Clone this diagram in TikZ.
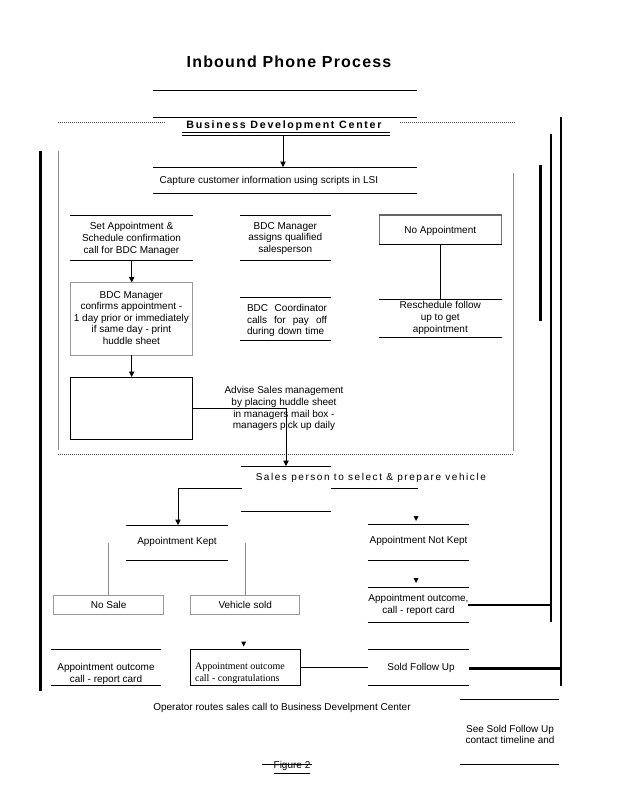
\documentclass[tikz,border=0pt]{standalone}
\usepackage{fontspec}
\setmainfont{Liberation Sans}
\newfontfamily\tnr{Liberation Serif}
\usetikzlibrary{arrows.meta}
\begin{document}
\begin{tikzpicture}[x=0.75pt,y=-0.75pt,
  txt/.style={font=\fontsize{7.5}{8.7}\selectfont, align=center, inner sep=0pt},
  rl/.style={line width=0.6pt},
  grl/.style={line width=0.6pt, black!45},
  dotl/.style={line width=0.5pt, black!70, dash pattern=on 0.6pt off 0.9pt},
  heavy/.style={line width=2.2pt},
  arr/.style={line width=0.6pt, -{Triangle[length=4pt,width=4pt]}},
  box/.style={draw, line width=0.6pt, inner sep=0pt},
  gbox/.style={draw=black!40, line width=0.6pt, inner sep=0pt},
  tip/.style={fill=black}
]
\useasboundingbox (0,0) rectangle (617,800);

% ---------- title area
\node[inner sep=0pt, font=\fontsize{12}{14}\selectfont\bfseries\addfontfeature{LetterSpace=7.5}] (title) at (289,62) {Inbound Phone Process};
\draw[rl] (153,90) -- (417,90);
\draw[rl] (153,117) -- (417,117);
\draw[dotl] (58,122.7) -- (165,122.7);
\draw[dotl] (400,122.7) -- (515,122.7);
\node[inner sep=0pt, font=\fontsize{8}{9}\selectfont\bfseries\addfontfeature{LetterSpace=16}] (bdc) at (284,125.8) {Business Development Center};
\draw[rl] (182,132.5) -- (390,132.5);
\draw[rl] (182,135.3) -- (390,135.3);
\coordinate (bdcu) at (283,135.3);

% ---------- capture
\coordinate (capt) at (283,167);
\draw[rl] (153,167) -- (417,167);
\draw[rl] (153,193) -- (417,193);
\node[txt, anchor=west] (cap) at (159.4,180.5) {Capture customer information using scripts in LSI};
\draw[arr] (bdcu) -- (capt);

% ---------- frame lines
\draw[heavy] (40.5,151) -- (40.5,690.7);
\draw[grl] (58.3,151) -- (58.3,450);
\draw[grl] (513.5,172.7) -- (513.5,450.6);
\draw[dotl] (58.3,454) -- (514,454);
\draw[heavy] (540.7,165) -- (540.7,321);
\draw[heavy] (551,134) -- (551,622);
\draw[heavy] (561,117) -- (561,686);

% ---------- set appointment
\draw[rl] (70,215) -- (193,215);
\draw[rl] (70,260) -- (193,260);
\node[txt] (setapp) at (131.5,239) {Set Appointment \&\\Schedule confirmation\\call for BDC Manager};
\coordinate (setb) at (131.7,260);

\node[gbox, minimum width=92pt, minimum height=54.2pt] (bm) at (131.4,318.9) {};
\node[txt, font=\fontsize{7.5}{8.6}\selectfont] (bmt) at (131.4,318) {BDC Manager\\confirms appointment -\\1 day prior or immediately\\if same day - print\\huddle sheet};
\draw[arr] (setb) -- (bm.north -| setb);

\node[box, minimum width=91.5pt, minimum height=46.5pt] (eb) at (131.7,408.3) {};
\draw[arr] (bm.south -| setb) -- (eb.north -| setb);

% ---------- BDC manager assigns
\draw[rl] (240,215) -- (330.7,215);
\draw[rl] (240,260) -- (330.7,260);
\node[txt] (assign) at (285.3,238.3) {BDC Manager\\assigns qualified\\salesperson};

% ---------- BDC coordinator
\draw[rl] (240,297.3) -- (330.7,297.3);
\draw[rl] (240,340) -- (330.7,340);
\node[txt, align=left, text width=60pt] (coord) at (287,320.5) {BDC\hfill Coordinator\\calls\hfill for\hfill pay\hfill off\\during down time};

% ---------- no appointment
\node[draw=black!55, line width=0.6pt, inner sep=0pt, minimum width=92pt, minimum height=21.6pt] (na) at (440.3,229.6) {};
\draw[line width=1.2pt, black!60] (na.north west) -- (na.north east);
\draw[line width=1.2pt] (na.south west) -- (na.south east);
\node[txt] (nat) at (440.3,230.7) {No Appointment};
\coordinate (rest) at (440.3,299.3);
\draw[rl] (na.south) -- (rest);
\draw[rl] (379,299.3) -- (501.7,299.3);
\draw[rl] (379,337.7) -- (501.7,337.7);
\node[txt] (resch) at (440.3,318) {Reschedule follow\\up to get\\appointment};

% ---------- advise
\node[txt] (adv) at (284,408.8) {Advise Sales management\\by placing huddle sheet\\in managers mail box -\\managers pick up daily};
\coordinate (salt) at (286,466);
\draw[arr] (eb.east) -| (salt);

% ---------- sales person
\draw[rl] (240.7,466) -- (331.4,466);
\draw[rl] (331.4,488.3) -- (418.3,488.3);
\draw[rl] (240.7,511) -- (331.4,511);
\node[txt, anchor=west, font=\fontsize{7.5}{8.7}\selectfont\addfontfeature{LetterSpace=15.5}] (sales) at (255.5,478.3) {Sales person to select \& prepare vehicle};
\coordinate (sall) at (241.7,488.3);
\coordinate (akt) at (178,525);
\draw[arr] (sall) -| (akt);

% ---------- appointment kept
\draw[rl] (126,525) -- (228,525);
\draw[rl] (126,560) -- (228,560);
\node[txt] (ak) at (177,541.7) {Appointment Kept};
\node[gbox, minimum width=82.2pt, minimum height=14pt] (ns) at (108.6,605) {};
\node[txt] (nst) at (108.6,605) {No Sale};
\node[gbox, minimum width=81.75pt, minimum height=14pt] (vs) at (245.2,605) {};
\node[txt] (vst) at (245.2,605) {Vehicle sold};
\coordinate (nsl) at (108.6,542.7);
\coordinate (vsl) at (245.2,542.7);
\draw[grl] (nsl) -- (ns.north);
\draw[grl] (vsl) -- (vs.north);

% ---------- appointment not kept
\fill[tip] (413.6,516) -- (418.6,516) -- (416.1,521) -- cycle;
\draw[rl] (367.6,524) -- (469.3,524);
\draw[rl] (367.6,560) -- (469.3,560);
\node[txt] (ank) at (418.5,540.7) {Appointment Not Kept};
\fill[tip] (413.6,578) -- (418.6,578) -- (416.1,583) -- cycle;
\draw[rl] (367.6,587.7) -- (469.3,587.7);
\draw[rl] (367.6,622.3) -- (469.3,622.3);
\node[txt] (rcr) at (418.5,605) {Appointment outcome,\\call - report card};
\coordinate (rcre) at (468,605);
\coordinate (rcrv) at (551,605);
\draw[heavy] (rcre) -- (rcrv);

% ---------- bottom row
\draw[rl] (51,649.3) -- (160.7,649.3);
\draw[rl] (51,685) -- (160.7,685);
\node[txt] (rcl) at (106,674) {Appointment outcome\\call - report card};

\fill[tip] (241.2,641.5) -- (246.2,641.5) -- (243.7,646.5) -- cycle;
\node[box, minimum width=82.5pt, minimum height=26.8pt] (cg) at (245.4,667.15) {};
\node[inner sep=0pt, anchor=west, align=left, font=\tnr\fontsize{7.5}{8.7}\selectfont] (cgt) at (194.8,673.5) {Appointment outcome\\call - congratulations};

\draw[rl] (367.8,649.3) -- (468.9,649.3);
\draw[rl] (367.8,685) -- (468.9,685);
\node[txt] (sfu) at (421,667.7) {Sold Follow Up};
\coordinate (sfl) at (367.8,667.15);
\draw[rl] (cg.east) -- (sfl);
\coordinate (sfr) at (468.9,668.5);
\coordinate (sfv) at (561,668.5);
\draw[heavy] (sfr) -- (sfv);

\node[txt] (oper) at (282,708.3) {Operator routes sales call to Business Develpment Center};

\draw[rl] (459.6,699.3) -- (558.9,699.3);
\draw[rl] (459.6,764.3) -- (558.9,764.3);
\node[txt] (see) at (510,734.5) {See Sold Follow Up\\contact timeline and};

\draw[rl] (261.5,764.3) -- (311.5,764.3);
\node[txt] (fig) at (292,767.7) {\underline{Figure 2}};
\end{tikzpicture}
\end{document}
